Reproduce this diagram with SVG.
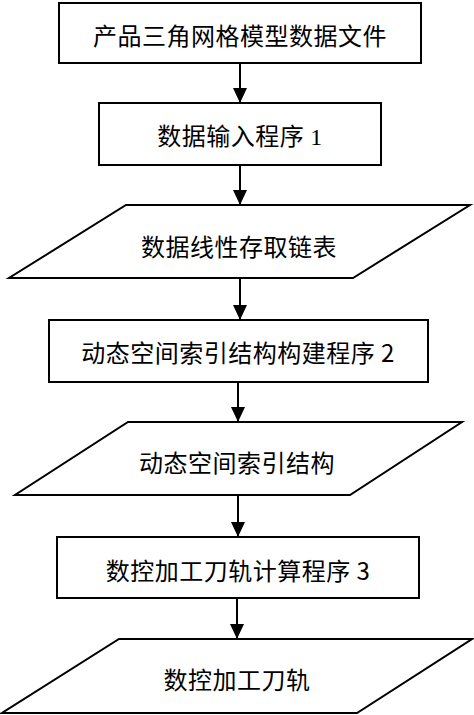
<svg xmlns="http://www.w3.org/2000/svg" width="474" height="715" viewBox="0 0 474 715">
<defs>
<style>
.shape{fill:#fff;stroke:#000;stroke-width:2}
.lbl{font-family:"Noto Sans CJK SC","Liberation Sans",sans-serif;font-size:24px;fill:#000;text-anchor:middle;letter-spacing:0.5px}
.num{font-family:"Liberation Serif",serif}
.edge{stroke:#000;stroke-width:2;fill:none}
</style>
<marker id="arr" viewBox="0 0 15 14" refX="15" refY="7" markerWidth="15" markerHeight="14" markerUnits="userSpaceOnUse" orient="auto">
<path d="M0,0 L15,7 L0,14 z" fill="#000"/>
</marker>
</defs>
<rect width="474" height="715" fill="#fff"/>
<g id="connectors">
<line class="edge" x1="240" y1="63" x2="240" y2="103" marker-end="url(#arr)"/>
<line class="edge" x1="240" y1="165" x2="240" y2="205" marker-end="url(#arr)"/>
<line class="edge" x1="240" y1="278" x2="240" y2="320" marker-end="url(#arr)"/>
<line class="edge" x1="238" y1="382" x2="238" y2="422" marker-end="url(#arr)"/>
<line class="edge" x1="238" y1="495" x2="238" y2="537" marker-end="url(#arr)"/>
<line class="edge" x1="237" y1="598" x2="237" y2="639" marker-end="url(#arr)"/>
</g>
<g id="n1">
<rect class="shape" x="59" y="3" width="362" height="60"/>
<text class="lbl" x="240" y="45">产品三角网格模型数据文件</text>
</g>
<g id="n2">
<rect class="shape" x="99" y="103" width="282" height="62"/>
<text class="lbl" x="240" y="145">数据输入程序 <tspan class="num">1</tspan></text>
</g>
<g id="n3">
<polygon class="shape" points="126,205 470,205 353,278 9,278"/>
<text class="lbl" x="239" y="256">数据线性存取链表</text>
</g>
<g id="n4">
<rect class="shape" x="49" y="320" width="379" height="62"/>
<text class="lbl" x="238" y="362">动态空间索引结构构建程序 2</text>
</g>
<g id="n5">
<polygon class="shape" points="128,422 462,422 350,495 15,495"/>
<text class="lbl" x="237" y="472">动态空间索引结构</text>
</g>
<g id="n6">
<rect class="shape" x="57" y="537" width="362" height="61"/>
<text class="lbl" x="238" y="580">数控加工刀轨计算程序 3</text>
</g>
<g id="n7">
<polygon class="shape" points="119,639 472,639 357,713 2,713"/>
<text class="lbl" x="237" y="689">数控加工刀轨</text>
</g>
</svg>
